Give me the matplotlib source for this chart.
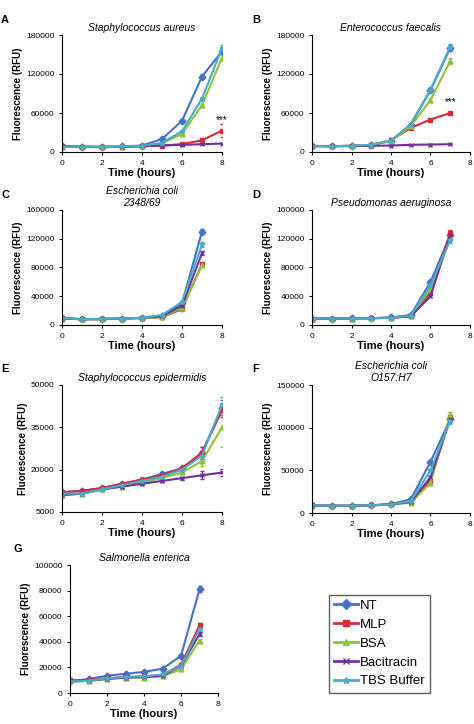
import numpy as np
import matplotlib.pyplot as plt
from matplotlib.lines import Line2D

W, H = 474, 724

series = ['NT', 'MLP', 'BSA', 'Bacitracin', 'TBS Buffer']
colors = ['#4472C4', '#D62B3A', '#8CC43C', '#7030A0', '#4BACC6']
markers = ['D', 's', '^', 'x', '*']

# panel A - Staphylococcus aureus (0..8 h)
a_vals = [
    [9000, 8000, 8000, 8500, 10000, 20000, 48000, 116000, 155000],
    [9000, 8000, 7500, 8000, 9000, 10000, 12000, 18000, 33000],
    [8000, 7500, 7500, 8000, 9000, 13000, 28000, 72000, 145000],
    [8000, 8000, 8000, 8000, 9000, 10000, 11000, 12000, 13000],
    [8000, 8000, 8000, 8500, 9500, 14000, 32000, 82000, 160000],
]
b_vals = [
    [9000, 9000, 9500, 10500, 17000, 42000, 95000, 160000],
    [9500, 9000, 9500, 11000, 18000, 37000, 50000, 60000],
    [9000, 9000, 9500, 11000, 17000, 40000, 80000, 140000],
    [9000, 9000, 9000, 9500, 10000, 11000, 11500, 12000],
    [9000, 9000, 9500, 11000, 17500, 43000, 96000, 162000],
]
c_vals = [
    [10000, 8000, 8500, 9000, 10000, 13000, 30000, 130000],
    [9500, 8000, 8500, 9000, 9500, 11000, 22000, 85000],
    [9000, 8000, 8000, 8500, 9500, 11000, 24000, 83000],
    [9000, 8000, 8000, 9000, 10000, 12000, 27000, 100000],
    [9500, 8000, 8500, 9000, 10000, 14000, 32000, 112000],
]
d_vals = [
    [9000, 9000, 9500, 9500, 10500, 14000, 60000, 125000],
    [9000, 9000, 9000, 9500, 10000, 12000, 45000, 128000],
    [9000, 9000, 9000, 9500, 10000, 12000, 50000, 122000],
    [9000, 9000, 9000, 9500, 10000, 12000, 40000, 125000],
    [9000, 9000, 9000, 9500, 10000, 13000, 55000, 118000],
]
e_vals = [
    [12000, 12500, 13500, 15000, 16500, 18500, 20500, 26000, 42000],
    [12000, 12500, 13500, 15000, 16500, 18000, 20500, 26000, 41000],
    [11000, 11500, 13000, 14000, 15500, 17000, 19000, 23000, 35000],
    [11000, 11500, 13000, 14000, 15000, 16000, 17000, 18000, 19000],
    [11500, 11500, 13000, 14500, 16000, 17500, 20000, 25000, 43000],
]
f_vals = [
    [9000, 8500, 8500, 9000, 10500, 16000, 60000, 110000],
    [9000, 8500, 8500, 9000, 10000, 13000, 38000, 112000],
    [8500, 8500, 8500, 9000, 10000, 12000, 35000, 115000],
    [8500, 8500, 8500, 9000, 10000, 13000, 42000, 110000],
    [9000, 8500, 8500, 9000, 10000, 14000, 50000, 108000],
]
g_vals = [
    [9000, 11000, 13500, 15000, 16500, 19000, 29000, 81000],
    [10000, 10000, 11500, 12500, 13000, 14000, 22000, 53000],
    [9000, 9500, 11000, 12000, 12000, 13000, 18500, 41000],
    [9000, 9500, 11000, 12000, 12500, 13500, 21000, 46000],
    [9000, 9500, 11500, 12500, 13000, 14500, 21000, 50000],
]

panels = [
    ('A', 'Staphylococcus aureus', a_vals, [0, 60000, 120000, 180000], (62, 35, 222, 152), 8),
    ('B', 'Enterococcus faecalis', b_vals, [0, 60000, 120000, 180000], (312, 35, 470, 152), 7),
    ('C', 'Escherichia coli\n2348/69', c_vals, [0, 40000, 80000, 120000, 160000], (62, 210, 222, 325), None),
    ('D', 'Pseudomonas aeruginosa', d_vals, [0, 40000, 80000, 120000, 160000], (312, 210, 470, 325), None),
    ('E', 'Staphylococcus epidermidis', e_vals, [5000, 20000, 35000, 50000], (62, 385, 222, 512), None),
    ('F', 'Escherichia coli\nO157:H7', f_vals, [0, 50000, 100000, 150000], (312, 385, 470, 513), None),
    ('G', 'Salmonella enterica', g_vals, [0, 20000, 40000, 60000, 80000, 100000], (70, 565, 218, 693), None),
]

fig = plt.figure(figsize=(W / 100, H / 100), dpi=100)
plt.rcParams['font.family'] = ['Liberation Sans', 'DejaVu Sans']

for letter, title, vals, yt, box, stars in panels:
    l, t, r, b = box
    ax = fig.add_axes([l / W, 1 - b / H, (r - l) / W, (b - t) / H])
    for i, v in enumerate(vals):
        x = np.arange(len(v))
        err = np.array(v) * 0.03
        if letter == 'E':
            err[-1] = v[-1] * 0.2 if i == 2 else v[-1] * 0.06
            err[-2] = v[-2] * 0.08
        if letter == 'A' and i == 1:
            err[-1] = 10000
        ax.errorbar(x, v, yerr=err, color=colors[i], marker=markers[i], ms=3.5,
                    lw=1.5, mew=1, capsize=1.5, elinewidth=0.8)
    ax.set_xlim(0, 8)
    ax.set_xticks([0, 2, 4, 6, 8])
    ax.set_ylim(yt[0], yt[-1])
    ax.set_yticks(yt)
    ax.tick_params(labelsize=6, length=2, width=0.8)
    for s in ['top', 'right']:
        ax.spines[s].set_visible(False)
    ax.set_xlabel('Time (hours)', fontsize=8, fontweight='bold', labelpad=1)
    ax.set_ylabel('Fluorescence (RFU)', fontsize=7, fontweight='bold', labelpad=2)
    ax.set_title(title, fontsize=7.5, style='italic', pad=3)
    ax.text(-0.38, 1.1, letter, transform=ax.transAxes, fontsize=8, fontweight='bold')
    if stars is not None:
        ax.text(stars, vals[1][stars] + 12000, '***', ha='center', fontsize=7)

handles = [Line2D([], [], color=colors[i], marker=markers[i], ms=5, lw=2) for i in range(5)]
fig.legend(handles, series, loc='upper left', bbox_to_anchor=(322 / W, 1 - 588 / H),
           fontsize=9.5, frameon=True, fancybox=False, edgecolor='#333333',
           handlelength=1.8, handletextpad=0.2, labelspacing=0.5, borderpad=0.4)

fig.savefig('out.png', dpi=100)
